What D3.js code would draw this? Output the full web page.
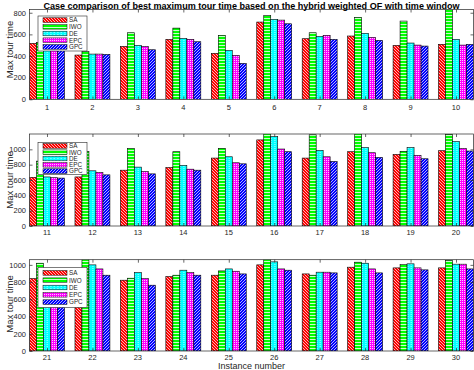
<!DOCTYPE html>
<html><head><meta charset="utf-8">
<script src="https://cdn.jsdelivr.net/npm/d3@7"></script>
<style>body{margin:0;background:#fff}svg{display:block}</style>
</head><body>
<svg id="c" width="474" height="370"></svg>
<script>
const instances = d3.range(1, 31);
const seriesNames = ["SA", "IWO", "DE", "EPC", "GPC"];
const SA  = [517,409,489,554,425,714,560,585,498,508, 635,640,728,763,886,1123,886,969,934,982, 841,860,822,864,880,1000,895,973,965,965];
const IWO = [526,440,615,658,591,775,615,757,723,850, 846,970,1010,969,1013,1250,1190,1250,974,1195, 1019,1080,845,880,930,1070,880,1031,1004,1050];
const DE  = [480,418,498,563,452,738,582,609,520,554, 640,720,768,790,903,1167,987,1022,1022,1101, 900,1000,911,938,953,1035,915,1019,1012,1008];
const EPC = [470,418,489,554,406,732,591,572,501,501, 630,700,711,741,825,1004,903,956,921,1013, 880,953,841,911,926,953,915,953,965,1008];
const GPC = [460,415,458,532,332,698,554,545,492,508, 625,667,680,728,811,969,842,895,877,978, 860,880,764,880,895,938,907,907,942,953];
const yMax = [830, 1200, 1060];
const yTicks = [[0,200,400,600,800],[0,200,400,600,800,1000],[0,200,400,600,800,1000]];
const titleText = "Case comparison of best maximum tour time based on the hybrid weighted OF with time window";

const colors = ["#ff0000", "#00ff00", "#00ffff", "#ff00ff", "#0000ff"];
const allSeries = [SA, IWO, DE, EPC, GPC];
const svg = d3.select("#c");
const font = "Liberation Sans, Arial, Helvetica, sans-serif";
const axisCol = "#262626";

const defs = svg.append("defs");
function pat(id, bg, w, h, draw) {
  const p = defs.append("pattern").attr("id", id).attr("patternUnits", "userSpaceOnUse")
    .attr("width", w).attr("height", h);
  p.append("rect").attr("width", w).attr("height", h).attr("fill", bg);
  draw(p);
}
pat("pSA", colors[0], 3, 3, p => {
  p.append("path").attr("d", "M0,0 L3,3 M-1,2 L1,4 M2,-1 L4,1").attr("stroke", "#fff").attr("stroke-width", 0.7);
});
pat("pIWO", colors[1], 4, 3, p => {
  p.append("rect").attr("x", 0).attr("y", 0).attr("width", 4).attr("height", 0.8).attr("fill", "#fff");
});
pat("pDE", colors[2], 3.5, 2, p => {
  p.append("rect").attr("x", 1.4).attr("y", 0).attr("width", 0.8).attr("height", 1).attr("fill", "#fff");
});
pat("pEPC", colors[3], 2, 2, p => {
  p.append("rect").attr("x", 0).attr("y", 0).attr("width", 1).attr("height", 1).attr("fill", "#fff").attr("opacity", 0.8);
});
pat("pGPC", colors[4], 3, 3, p => {
  p.append("path").attr("d", "M0,3 L3,0 M-1,1 L1,-1 M2,4 L4,2").attr("stroke", "#fff").attr("stroke-width", 0.7);
});
const fills = ["url(#pSA)", "url(#pIWO)", "url(#pDE)", "url(#pEPC)", "url(#pGPC)"];

const left = 29.5, right = 473.5;
const panels = [
  {top: 9.5, bottom: 99.3, tickY: 109.5, legTop: 16, legH: 35, rowGap: 6.7, labelC: 49.5},
  {top: 134, bottom: 226, tickY: 235, legTop: 142.5, legH: 32, rowGap: 6.3, labelC: 180},
  {top: 259.7, bottom: 351, tickY: 359.5, legTop: 267.5, legH: 40, rowGap: 7.3, labelC: 304}
];
const nS = seriesNames.length;
const groupW = 0.769;

panels.forEach((P, pi) => {
  const cats = instances.slice(pi * 10, pi * 10 + 10);
  const x = d3.scaleLinear().domain([cats[0] - 0.385, cats[9] + 0.385]).range([left, right]);
  const y = d3.scaleLinear().domain([0, yMax[pi]]).range([P.bottom, P.top]);
  const cid = "clip" + pi;
  defs.append("clipPath").attr("id", cid).append("rect")
    .attr("x", left).attr("y", P.top).attr("width", right - left).attr("height", P.bottom - P.top);
  const g = svg.append("g");
  const bars = g.append("g").attr("clip-path", `url(#${cid})`);
  const bw = x(cats[0] + groupW / nS) - x(cats[0]);
  allSeries.forEach((vals, si) => {
    bars.selectAll(null).data(cats).enter().append("rect")
      .attr("x", c => x(c - groupW / 2 + si * groupW / nS))
      .attr("y", c => y(vals[c - 1]))
      .attr("width", bw)
      .attr("height", c => y(0) - y(vals[c - 1]))
      .attr("fill", fills[si])
      .attr("stroke", "#000").attr("stroke-width", 0.6);
  });
  g.append("rect").attr("x", left).attr("y", P.top).attr("width", right - left).attr("height", P.bottom - P.top)
    .attr("fill", "none").attr("stroke", axisCol).attr("stroke-width", 0.7);
  const xa = d3.axisBottom(x).tickValues(cats).tickSize(-3).tickFormat("");
  g.append("g").attr("transform", `translate(0,${P.bottom})`).call(xa)
    .call(s => { s.select(".domain").remove(); s.selectAll("line").attr("stroke", axisCol).attr("stroke-width", 0.7); });
  g.append("g").attr("transform", `translate(0,${P.top})`).call(d3.axisTop(x).tickValues(cats).tickSize(-3).tickFormat(""))
    .call(s => { s.select(".domain").remove(); s.selectAll("line").attr("stroke", axisCol).attr("stroke-width", 0.7); });
  g.selectAll(null).data(cats).enter().append("text")
    .attr("x", c => x(c)).attr("y", P.tickY).attr("text-anchor", "middle")
    .attr("font-family", font).attr("font-size", 7.5).attr("fill", axisCol).text(c => c);
  const ya = d3.axisLeft(y).tickValues(yTicks[pi]).tickSize(-3).tickFormat("");
  g.append("g").attr("transform", `translate(${left},0)`).call(ya)
    .call(s => { s.select(".domain").remove(); s.selectAll("line").attr("stroke", axisCol).attr("stroke-width", 0.7); });
  g.append("g").attr("transform", `translate(${right},0)`).call(d3.axisRight(y).tickValues(yTicks[pi]).tickSize(-3).tickFormat(""))
    .call(s => { s.select(".domain").remove(); s.selectAll("line").attr("stroke", axisCol).attr("stroke-width", 0.7); });
  g.selectAll(null).data(yTicks[pi]).enter().append("text")
    .attr("x", 26).attr("y", v => y(v) + 2.8).attr("text-anchor", "end")
    .attr("font-family", font).attr("font-size", 7.5).attr("fill", axisCol).text(v => v);
  g.append("text").attr("transform", `translate(12.5,${P.labelC}) rotate(-90)`).attr("text-anchor", "middle")
    .attr("font-family", font).attr("font-size", 9.5).attr("fill", axisCol).text("Max tour time");
  const L = g.append("g");
  L.append("rect").attr("x", 38).attr("y", P.legTop).attr("width", 49).attr("height", P.legH)
    .attr("fill", "#fff").attr("stroke", axisCol).attr("stroke-width", 0.6);
  const r0 = P.legTop + (P.legH - P.rowGap * 4) / 2;
  seriesNames.forEach((n, si) => {
    const cy = r0 + si * P.rowGap;
    L.append("rect").attr("x", 43).attr("y", cy - 2.3).attr("width", 24).attr("height", 4.6)
      .attr("fill", fills[si]).attr("stroke", "#000").attr("stroke-width", 0.5);
    L.append("text").attr("x", 69).attr("y", cy + 2.3).attr("font-family", font).attr("font-size", 6.3)
      .attr("fill", axisCol).text(n);
  });
});

const t = svg.append("text").attr("x", 251.5).attr("y", 8.5).attr("text-anchor", "middle")
  .attr("font-family", font).attr("font-weight", "bold").attr("font-size", 10).attr("fill", "#000").text(titleText);
const tw = t.node().getComputedTextLength();
t.attr("font-size", 10 * 417 / tw);

svg.append("text").attr("x", 251.5).attr("y", 369).attr("text-anchor", "middle")
  .attr("font-family", font).attr("font-size", 9).attr("fill", axisCol).text("Instance number");
</script>
</body></html>
